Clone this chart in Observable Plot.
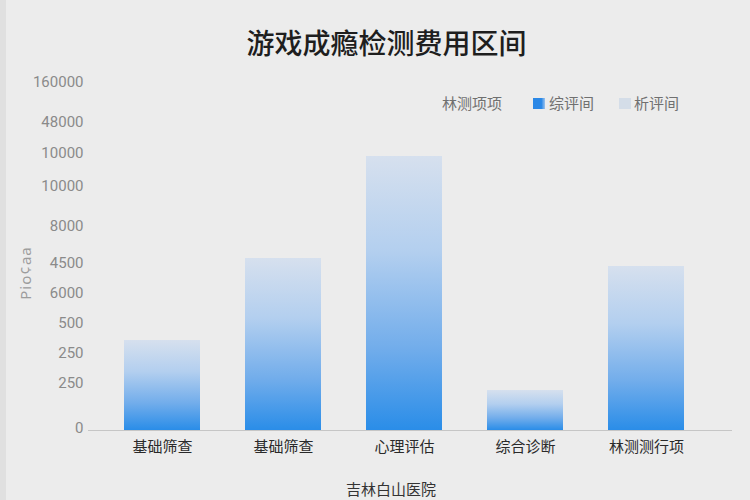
<!DOCTYPE html>
<html>
<head>
<meta charset="utf-8">
<script src="https://cdn.jsdelivr.net/npm/d3@7"></script>
<script src="https://cdn.jsdelivr.net/npm/@observablehq/plot@0.6"></script>
<style>
  html, body { margin: 0; padding: 0; background: #ececec; }
  #wrap { position: relative; width: 750px; height: 500px; background: #ececec; overflow: hidden;
          font-family: "Noto Sans CJK SC", "Noto Sans", sans-serif; }
  #edge { position: absolute; left: 0; top: 0; width: 6px; height: 500px; background: #e0e0e0; }
  #title { position: absolute; left: 0; top: 22px; width: 773px; text-align: center; font-size: 28px;
           font-weight: 500; color: #1e1e1e; line-height: 40px; }
  #chart { position: absolute; left: 0; top: 0; }
  .leg { position: absolute; top: 93px; font-size: 15px; color: #707070; line-height: 20px; white-space: nowrap; }
  .sw { position: absolute; top: 98px; width: 12px; height: 11px; }
  #xtitle { position: absolute; top: 478px; left: 291px; width: 200px; text-align: center; font-size: 15px; color: #333; line-height: 22px; }
  #ytitle { position: absolute; left: 25px; top: 273px; transform: translate(-50%, -50%) rotate(-90deg);
            font-size: 15px; letter-spacing: 1px; color: #9c9c9c; font-family: "Noto Sans", sans-serif; white-space: nowrap; }
</style>
</head>
<body>
<div id="wrap">
  <div id="edge"></div>
  <div id="title"></div>
  <div id="chart"></div>
  <div id="ytitle"></div>
  <div id="xtitle"></div>
</div>
<script>
// ---- data ----
const titleText = "游戏成瘾检测费用区间";
const categories = ["基础筛查", "基础筛查 ", "心理评估", "综合诊断", "林测测行项"];
// bar heights in axis units (the axis labels are non-monotonic, so values are read as axis positions)
const values = [90, 172, 274, 40, 164];
const tickPositions = [348, 308, 277, 244, 204, 167, 137, 107, 77, 47, 2];
const tickLabels = ["160000", "48000", "10000", "10000", "8000", "4500", "6000", "500", "250", "250", "0"];
const legendTitle = "林测项项";
const legendItems = ["综评间", "析评间"];
const xTitle = "吉林白山医院";
const yTitle = "Pio¢aa";

const data = categories.map((c, i) => ({cat: c, v: values[i]}));

document.getElementById("title").textContent = titleText;
document.getElementById("xtitle").textContent = xTitle;
document.getElementById("ytitle").textContent = yTitle;

const wrap = document.getElementById("wrap");
function addLeg(text, left) {
  const d = document.createElement("div");
  d.className = "leg"; d.style.left = left + "px"; d.textContent = text; wrap.appendChild(d);
}
function addSw(left, bg) {
  const d = document.createElement("div");
  d.className = "sw"; d.style.left = left + "px"; d.style.background = bg; wrap.appendChild(d);
}
addLeg(legendTitle, 442);
addSw(533, "linear-gradient(to right, #2b88e6 70%, #9cc3ee)");
addLeg(legendItems[0], 549);
addSw(619, "#d4dde8");
addLeg(legendItems[1], 634);

const defs = () => {
  const d = d3.create("svg:defs");
  const g = d.append("linearGradient").attr("id", "barGrad")
    .attr("x1", 0).attr("y1", 0).attr("x2", 0).attr("y2", 1);
  g.append("stop").attr("offset", "0%").attr("stop-color", "#d6e0ee");
  g.append("stop").attr("offset", "35%").attr("stop-color", "#b3cfef");
  g.append("stop").attr("offset", "70%").attr("stop-color", "#72adeb");
  g.append("stop").attr("offset", "100%").attr("stop-color", "#2a8de8");
  return d.node();
};

const chart = Plot.plot({
  width: 750,
  height: 500,
  marginTop: 70,
  marginBottom: 70,
  marginLeft: 88,
  marginRight: 30,
  style: {background: "transparent", fontFamily: "\"Noto Sans CJK SC\", \"Noto Sans\", sans-serif"},
  x: {domain: categories, paddingInner: 0.375, paddingOuter: 0.282},
  y: {domain: [0, 360]},
  marks: [
    defs,
    Plot.barY(data, {x: "cat", y: "v", fill: "url(#barGrad)"}),
    Plot.ruleY([0], {stroke: "#c6c6c6", strokeWidth: 1.2, insetRight: -12}),
    Plot.axisX({tickSize: 0, tickPadding: 11, fontSize: 15, color: "#2a2a2a", label: null,
      tickFormat: d => d.trim()}),
    Plot.axisY({ticks: tickPositions, tickSize: 0, tickPadding: 5, fontSize: 15, label: null,
      color: "#8a8a8a", fontFamily: "Roboto, sans-serif",
      tickFormat: d => tickLabels[tickPositions.indexOf(d)]})
  ]
});
document.getElementById("chart").appendChild(chart);
</script>
</body>
</html>
